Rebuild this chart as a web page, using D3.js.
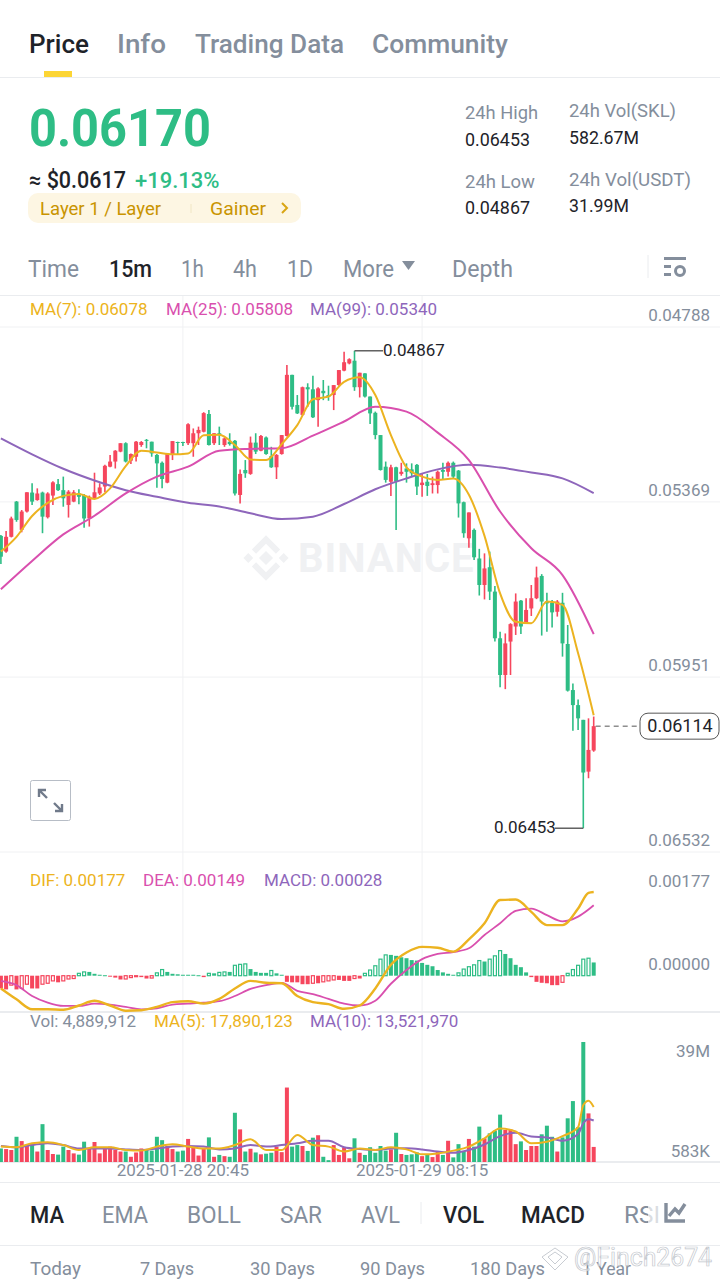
<!DOCTYPE html>
<html>
<head>
<meta charset="utf-8">
<script src="https://cdn.jsdelivr.net/npm/d3@7"></script>
<style>
html, body { margin: 0; padding: 0; background: #fff; }
svg { display: block; }
text { font-family: Roboto, "Noto Sans", sans-serif; }
</style>
</head>
<body>
<script>
// Candles, one entry per 15m bar
var lows = [0.05479,0.05466,0.05418,0.05366,0.05396,0.05337,0.05307,0.05324,0.05335,0.05337,0.05300,0.05293,0.05285,0.05330,0.05330,0.05327,0.05343,0.05348,0.05272,0.05307,0.05246,0.05213,0.05197,0.05174,0.05171,0.05208,0.05167,0.05167,0.05160,0.05169,0.05210,0.05235,0.05208,0.05167,0.05169,0.05169,0.05108,0.05125,0.05119,0.05071,0.05064,0.05141,0.05119,0.05155,0.05141,0.05163,0.05261,0.05230,0.05152,0.05141,0.05147,0.05152,0.05186,0.05210,0.05147,0.04914,0.04947,0.05014,0.04986,0.04975,0.04950,0.04988,0.04964,0.04983,0.04981,0.04931,0.04870,0.04892,0.04867,0.04940,0.04942,0.05019,0.05069,0.05147,0.05235,0.05246,0.05252,0.05239,0.05241,0.05241,0.05243,0.05274,0.05276,0.05285,0.05265,0.05239,0.05235,0.05235,0.05263,0.05368,0.05404,0.05457,0.05525,0.05540,0.05534,0.05648,0.05800,0.05806,0.05772,0.05673,0.05695,0.05689,0.05645,0.05584,0.05609,0.05671,0.05695,0.05695,0.05671,0.05778,0.05972,0.06025,0.06093,0.06088,0.06082];
var opens = [0.05482,0.05534,0.05485,0.05368,0.05462,0.05401,0.05338,0.05363,0.05338,0.05420,0.05348,0.05310,0.05330,0.05379,0.05368,0.05341,0.05346,0.05424,0.05357,0.05341,0.05318,0.05252,0.05235,0.05202,0.05174,0.05232,0.05219,0.05180,0.05163,0.05169,0.05213,0.05239,0.05305,0.05210,0.05170,0.05170,0.05174,0.05174,0.05141,0.05136,0.05077,0.05174,0.05141,0.05180,0.05169,0.05166,0.05346,0.05263,0.05276,0.05172,0.05199,0.05155,0.05217,0.05254,0.05210,0.05150,0.04947,0.05047,0.05080,0.04988,0.04995,0.05031,0.05000,0.05014,0.05014,0.04981,0.04933,0.04909,0.04900,0.04988,0.04942,0.05019,0.05073,0.05147,0.05252,0.05302,0.05254,0.05276,0.05258,0.05261,0.05246,0.05313,0.05302,0.05313,0.05313,0.05263,0.05269,0.05239,0.05265,0.05370,0.05490,0.05462,0.05557,0.05645,0.05586,0.05667,0.05822,0.05944,0.05833,0.05783,0.05697,0.05772,0.05723,0.05689,0.05615,0.05700,0.05704,0.05734,0.05704,0.05841,0.05994,0.06044,0.06093,0.06265,0.06195];
var closes = [0.05551,0.05485,0.05424,0.05429,0.05401,0.05337,0.05368,0.05341,0.05418,0.05341,0.05304,0.05330,0.05357,0.05335,0.05337,0.05352,0.05424,0.05352,0.05337,0.05321,0.05249,0.05235,0.05199,0.05174,0.05235,0.05210,0.05169,0.05170,0.05166,0.05208,0.05241,0.05293,0.05210,0.05167,0.05172,0.05172,0.05111,0.05141,0.05130,0.05074,0.05180,0.05141,0.05147,0.05158,0.05177,0.05341,0.05276,0.05274,0.05172,0.05202,0.05150,0.05210,0.05254,0.05213,0.05147,0.04947,0.05053,0.05075,0.04988,0.04995,0.05088,0.04992,0.05008,0.05019,0.04981,0.04931,0.04905,0.04895,0.04988,0.04940,0.05019,0.05075,0.05147,0.05263,0.05296,0.05254,0.05302,0.05269,0.05269,0.05274,0.05318,0.05305,0.05316,0.05307,0.05269,0.05269,0.05239,0.05285,0.05374,0.05473,0.05404,0.05553,0.05645,0.05590,0.05667,0.05822,0.05944,0.05839,0.05775,0.05700,0.05783,0.05728,0.05689,0.05620,0.05700,0.05706,0.05736,0.05700,0.05839,0.05996,0.06044,0.06088,0.06268,0.06193,0.06114];
var highs = [0.05575,0.05538,0.05487,0.05435,0.05470,0.05404,0.05379,0.05365,0.05473,0.05424,0.05379,0.05333,0.05385,0.05421,0.05370,0.05377,0.05455,0.05451,0.05359,0.05346,0.05337,0.05254,0.05258,0.05204,0.05238,0.05243,0.05235,0.05186,0.05191,0.05219,0.05322,0.05324,0.05307,0.05230,0.05210,0.05183,0.05180,0.05219,0.05180,0.05138,0.05182,0.05180,0.05180,0.05186,0.05182,0.05348,0.05374,0.05289,0.05279,0.05210,0.05201,0.05212,0.05256,0.05293,0.05212,0.05152,0.05062,0.05077,0.05083,0.05053,0.05090,0.05119,0.05031,0.05033,0.05064,0.04983,0.04935,0.04912,0.05000,0.05022,0.05022,0.05110,0.05161,0.05265,0.05305,0.05349,0.05462,0.05282,0.05305,0.05285,0.05346,0.05352,0.05349,0.05341,0.05341,0.05296,0.05285,0.05291,0.05421,0.05488,0.05521,0.05562,0.05680,0.05693,0.05695,0.05833,0.05985,0.05991,0.05944,0.05811,0.05808,0.05775,0.05748,0.05692,0.05813,0.05800,0.05786,0.05750,0.05883,0.05999,0.06129,0.06127,0.06453,0.06287,0.06199];

// Price moving averages, sampled every few bars
var ma7Step = 3;
var ma7 = [0.05534,0.05485,0.05416,0.05372,0.05349,0.05343,0.05359,0.05324,0.05250,0.05199,0.05205,0.05211,0.05208,0.05148,0.05146,0.05180,0.05228,0.05230,0.05177,0.05114,0.05028,0.05019,0.04970,0.04955,0.05014,0.05147,0.05254,0.05285,0.05296,0.05291,0.05345,0.05482,0.05673,0.05767,0.05772,0.05700,0.05711,0.05872,0.06078];
var maSlowStep = 6;
var ma25 = [0.05659,0.05565,0.05477,0.05415,0.05341,0.05285,0.05252,0.05199,0.05193,0.05191,0.05149,0.05102,0.05053,0.05069,0.05139,0.05230,0.05401,0.05523,0.05612,0.05808];
var ma99 = [0.05158,0.05211,0.05259,0.05298,0.05330,0.05352,0.05372,0.05384,0.05407,0.05426,0.05418,0.05376,0.05327,0.05291,0.05261,0.05246,0.05255,0.05271,0.05291,0.05340];

// MACD panel, in units of 0.00001
var histogram = [-27,-29,-20,-29,-27,-18,-27,-27,-18,-16,-11,-14,-11,-7,-6,5,8,8,4,2,1,-1,-4,-8,-7,-4,-2,-3,-6,-5,6,13,8,4,3,2,2,2,1,-3,5,5,7,8,8,22,24,25,14,8,6,6,11,5,2,-13,-14,-14,-18,-18,-16,-16,-13,-11,-9,-9,-11,-11,-6,-6,5,12,21,35,44,44,42,39,37,33,32,27,23,20,12,7,4,2,6,14,19,23,32,30,35,42,53,46,37,23,18,7,-3,-13,-15,-16,-20,-20,-14,5,13,22,35,37,28];
var macdBars = d3.range(0, 112, 3).concat([113, 114]);
var dif = [-27,-50,-71,-71,-72,-63,-53,-63,-74,-73,-66,-56,-54,-59,-49,-27,-11,-15,-16,-43,-56,-60,-70,-63,-27,23,49,61,59,51,77,111,160,161,135,107,107,142,175,177];
var dea = [-11,-20,-43,-57,-64,-64,-59,-61,-66,-71,-69,-61,-59,-57,-54,-43,-28,-20,-15,-32,-39,-49,-59,-63,-53,-17,12,35,46,50,58,86,111,137,142,128,115,125,140,149];

// Volume panel, in millions
var volumes = [4.4,4.2,3.9,8.2,6.8,5.5,5.7,3.4,12.3,3.9,2.6,2.4,5.0,3.9,2.8,2.4,6.6,4.4,6.5,2.8,4.4,5.0,3.9,3.4,3.4,1.7,3.1,4.4,4.2,3.7,8.2,7.1,5.2,4.2,3.4,3.7,7.5,4.7,2.1,4.4,8.0,1.7,2.3,1.9,1.7,16.0,10.6,3.4,4.3,3.1,2.5,2.7,3.0,5.0,3.2,24.2,5.0,5.5,5.2,3.6,7.9,8.7,1.7,0.6,5.5,2.3,4.8,1.2,7.7,3.0,2.3,4.8,3.0,5.2,3.7,4.1,9.5,2.6,2.3,2.5,3.1,1.9,2.3,1.6,3.4,2.3,6.9,1.5,5.8,3.4,7.5,5.0,11.5,7.7,9.3,10.2,15.4,10.4,10.6,5.8,6.7,3.9,5.2,5.2,9.0,11.8,8.2,3.4,8.0,14.2,19.8,11.3,39.0,15.8,4.9];
var volMaBars = d3.range(0, 112, 3).concat([112, 113, 114]);
var volMa5 = [5.0,4.8,6.1,6.4,5.5,3.9,4.8,4.8,3.9,3.7,5.0,5.8,5.0,4.4,4.4,5.5,7.4,3.9,3.9,8.8,5.5,5.0,3.4,4.4,3.9,4.8,4.1,2.5,2.8,3.7,5.0,7.7,10.9,9.9,6.1,6.6,8.4,11.3,18.5,19.9,17.9];
var volMa10 = [5.2,4.8,5.5,6.1,5.5,4.4,4.4,4.4,4.1,3.9,4.4,5.0,5.2,5.0,4.1,4.4,5.5,5.0,5.5,6.1,6.9,6.9,4.8,4.2,3.9,4.4,4.5,4.1,3.4,3.0,3.9,5.7,8.4,9.5,8.3,8.0,6.9,9.1,12.6,13.9,13.5];

// Axis labels
var priceTicks = [0.04788, 0.05369, 0.05951, 0.06532];
var macdTicks = [177, 0];
var volTicks = [[39, "39M"], [0, "583K"]];
var dateBars = [35, 81];
var dateLabels = ["2025-01-28 20:45", "2025-01-29 08:15"];
var lastPrice = 0.06114, maxLabel = 0.04867, minLabel = 0.06453;

var green = "#2ebd85", red = "#f6465d", gray = "#848e9c", dark = "#1e2329", line = "#eaecef";
var yellowMa = "#ecb320", pinkMa = "#d94fae", purpleMa = "#8e66bb";

var svg = d3.select("body").append("svg").attr("width", 720).attr("height", 1280);

var x = d3.scaleLinear().domain([0, 114]).range([0.9, 593.7]);
var yPrice = d3.scaleLinear().domain([0.04788, 0.06532]).range([327, 852]); // the chart is drawn upside down
var yMacd = d3.scaleLinear().domain([0, 177]).range([975.7, 892]);
var yVol = d3.scaleLinear().domain([0, 39]).range([1162, 1042]);

function label(s, px, py, size, color, weight, anchor) {
  return svg.append("text").attr("x", px).attr("y", py).attr("font-size", size)
    .attr("fill", color).attr("font-weight", weight || 400)
    .attr("text-anchor", anchor || "start").text(s);
}
// Same as label but squeezed or stretched to the width seen in the picture
function fitted(s, px, py, size, color, weight, w) {
  return label(s, px, py, size, color, weight).attr("textLength", w).attr("lengthAdjust", "spacingAndGlyphs");
}
function rule(x1, y1, x2, y2, color, w) {
  return svg.append("line").attr("x1", x1).attr("y1", y1).attr("x2", x2).attr("y2", y2)
    .attr("stroke", color || line).attr("stroke-width", w || 1);
}
function drawLine(values, bars, yScale, color, w) {
  var gen = d3.line().x(function(d, i){ return x(bars(i)); }).y(function(d){ return yScale(d); }).curve(d3.curveMonotoneX);
  svg.append("path").attr("d", gen(values)).attr("fill", "none").attr("stroke", color).attr("stroke-width", w);
}
function isUp(i) { return closes[i] >= opens[i]; }

// Header
rule(0, 77.5, 720, 77.5);
fitted("Price", 29, 53, 26, dark, 500, 60);
fitted("Info", 117, 53, 26, gray, 500, 49);
fitted("Trading Data", 195, 53, 26, gray, 500, 149);
fitted("Community", 372, 53, 26, gray, 500, 136);
svg.append("rect").attr("x", 44).attr("y", 71).attr("width", 28).attr("height", 6).attr("fill", "#fcd535");

fitted("0.06170", 29, 146, 52, green, 700, 182);
fitted("≈ $0.0617", 29, 188, 23, dark, 500, 97);
label("+19.13%", 135, 188, 22, green, 500);
svg.append("rect").attr("x", 28).attr("y", 193).attr("width", 273).attr("height", 30).attr("rx", 10).attr("fill", "#fdf6e3");
fitted("Layer 1 / Layer", 40, 215, 19, "#c99400", 400, 121);
rule(191, 204, 191, 213, "#f0e6c4");
fitted("Gainer", 210, 215, 19, "#c99400", 400, 56);
svg.append("path").attr("d", "M282 203l5 5l-5 5").attr("fill", "none").attr("stroke", "#d9a514").attr("stroke-width", 2);

fitted("24h High", 465, 119, 19, gray, 400, 73);
fitted("0.06453", 465, 146, 19, dark, 400, 65);
fitted("24h Vol(SKL)", 569, 117, 19, gray, 400, 107);
fitted("582.67M", 569, 144, 19, dark, 400, 70);
fitted("24h Low", 465, 188, 19, gray, 400, 70);
fitted("0.04867", 465, 214, 19, dark, 400, 65);
fitted("24h Vol(USDT)", 569, 186, 19, gray, 400, 122);
fitted("31.99M", 569, 212, 19, dark, 400, 60);

// Interval row
fitted("Time", 28, 277, 24, gray, 400, 51);
fitted("15m", 109, 277, 24, dark, 500, 43);
fitted("1h", 181, 277, 24, gray, 400, 23);
fitted("4h", 233, 277, 24, gray, 400, 24);
fitted("1D", 287, 277, 24, gray, 400, 26);
fitted("More", 343, 277, 24, gray, 400, 51);
svg.append("path").attr("d", "M402 261h13l-6.5 9z").attr("fill", gray);
fitted("Depth", 452, 277, 24, gray, 400, 61);
rule(648, 255, 648, 278);
svg.append("path").attr("d", "M664 257h22v3h-22zM664 265h7v3h-7zM664 273h7v3h-7z").attr("fill", gray);
svg.append("circle").attr("cx", 680).attr("cy", 271).attr("r", 4.5).attr("fill", "none").attr("stroke", gray).attr("stroke-width", 3);
rule(0, 295.5, 720, 295.5);

// Grid
priceTicks.forEach(function(t){
  rule(0, yPrice(t), 720, yPrice(t), "#f0f1f3");
  label(t.toFixed(5), 710, yPrice(t) - 6, 17, gray, 400, "end");
});
dateBars.forEach(function(b, i){
  rule(x(b), 296, x(b), 1162, "#f0f1f3");
  label(dateLabels[i], x(b), 1176, 17, gray, 400, "middle");
});
rule(0, 1012, 720, 1012, line, 2);
rule(0, 1162, 720, 1162, line, 2);
rule(0, 1182.5, 720, 1182.5);
rule(0, 1245.5, 720, 1245.5);

// Watermark
var logo = svg.append("g").attr("transform", "translate(266,558) rotate(45)").attr("fill", "#f0f1f3");
logo.append("rect").attr("x", -5).attr("y", -5).attr("width", 10).attr("height", 10);
logo.append("path").attr("d", "M-16 -16h20v6h-14v14h-6zM16 16h-20v-6h14v-14h6z");
logo.append("rect").attr("x", 9).attr("y", -16).attr("width", 7).attr("height", 7);
logo.append("rect").attr("x", -16).attr("y", 9).attr("width", 7).attr("height", 7);
label("BINANCE", 298, 572, 40, "#f0f1f3", 700).attr("letter-spacing", 1);

// Candles
var candles = svg.append("g").selectAll("g").data(d3.range(opens.length)).enter().append("g");
candles.append("line")
  .attr("x1", function(i){ return x(i); }).attr("x2", function(i){ return x(i); })
  .attr("y1", function(i){ return yPrice(lows[i]); }).attr("y2", function(i){ return yPrice(highs[i]); })
  .attr("stroke", function(i){ return isUp(i) ? green : red; }).attr("stroke-width", 1.6);
candles.append("rect")
  .attr("x", function(i){ return x(i) - 2; }).attr("width", 4)
  .attr("y", function(i){ return yPrice(Math.min(opens[i], closes[i])); })
  .attr("height", function(i){ return Math.max(1, Math.abs(yPrice(opens[i]) - yPrice(closes[i]))); })
  .attr("fill", function(i){ return isUp(i) ? green : red; });

drawLine(ma99, function(i){ return i * maSlowStep; }, yPrice, purpleMa, 2);
drawLine(ma25, function(i){ return i * maSlowStep; }, yPrice, pinkMa, 2);
drawLine(ma7, function(i){ return i * ma7Step; }, yPrice, yellowMa, 2);

label("MA(7): 0.06078", 30, 315, 17, yellowMa);
label("MA(25): 0.05808", 166, 315, 17, pinkMa);
label("MA(99): 0.05340", 310, 315, 17, purpleMa);

// High and low markers
var hi = lows.indexOf(maxLabel), lo = highs.indexOf(minLabel);
rule(x(hi), yPrice(maxLabel), 383, yPrice(maxLabel), "#555", 1.4);
label(maxLabel.toFixed(5), 383, yPrice(maxLabel) + 5, 17, dark);
rule(555, yPrice(minLabel), x(lo), yPrice(minLabel), "#555", 1.4);
label(minLabel.toFixed(5), 494, yPrice(minLabel) + 5, 17, dark);

// Last price tag
rule(x(114) + 2, yPrice(lastPrice), 640, yPrice(lastPrice), "#555").attr("stroke-dasharray", "5,4");
svg.append("rect").attr("x", 640).attr("y", yPrice(lastPrice) - 13).attr("width", 79).attr("height", 26).attr("rx", 8)
  .attr("fill", "#fff").attr("stroke", "#555");
label(lastPrice.toFixed(5), 680, yPrice(lastPrice) + 6, 18, dark, 400, "middle");

// Expand button
svg.append("rect").attr("x", 30.5).attr("y", 780.5).attr("width", 40).attr("height", 40).attr("rx", 2)
  .attr("fill", "#fff").attr("stroke", "#b7bdc6");
svg.append("path").attr("d", "M47 798l-8-8M39 797v-7h7M54 803l8 8M62 804v7h-7")
  .attr("fill", "none").attr("stroke", "#707a8a").attr("stroke-width", 2.4);

// MACD
label("DIF: 0.00177", 30, 886, 17, yellowMa);
label("DEA: 0.00149", 143, 886, 17, pinkMa);
label("MACD: 0.00028", 264, 886, 17, purpleMa);
macdTicks.forEach(function(t){
  label((t / 100000).toFixed(5), 710, yMacd(t) + (t ? -5 : -6), 17, gray, 400, "end");
});
svg.append("g").selectAll("rect").data(histogram).enter().append("rect")
  .each(function(d, i){
    var color = d >= 0 ? green : red;
    var rising = i > 0 && d > histogram[i - 1];
    var top = Math.min(yMacd(d), yMacd(0)), h = Math.max(1, Math.abs(yMacd(d) - yMacd(0)));
    d3.select(this)
      .attr("x", x(i) - (rising ? 1.5 : 2)).attr("width", rising ? 3 : 4)
      .attr("y", top).attr("height", h)
      .attr("fill", rising ? "#fff" : color).attr("fill-opacity", rising ? 0.6 : 1)
      .attr("stroke", rising ? color : "none").attr("stroke-width", 1.2);
  });
drawLine(dea, function(i){ return macdBars[i]; }, yMacd, pinkMa, 1.8);
drawLine(dif, function(i){ return macdBars[i]; }, yMacd, yellowMa, 2.4);

// Volume
label("Vol: 4,889,912", 30, 1027, 17, gray);
label("MA(5): 17,890,123", 154, 1027, 17, yellowMa);
label("MA(10): 13,521,970", 310, 1027, 17, purpleMa);
volTicks.forEach(function(t){
  label(t[1], 710, yVol(t[0]) + (t[0] ? 15 : -5), 17, gray, 400, "end");
});
svg.append("g").selectAll("rect").data(volumes).enter().append("rect")
  .attr("x", function(d, i){ return x(i) - 2; }).attr("width", 4)
  .attr("y", function(d){ return yVol(d); })
  .attr("height", function(d){ return yVol(0) - yVol(d); })
  .attr("fill", function(d, i){ return isUp(i) ? green : red; });
drawLine(volMa10, function(i){ return volMaBars[i]; }, yVol, purpleMa, 2);
drawLine(volMa5, function(i){ return volMaBars[i]; }, yVol, yellowMa, 2);

// Indicator row
fitted("MA", 30, 1223, 23, dark, 500, 34);
fitted("EMA", 102, 1223, 23, gray, 400, 46);
fitted("BOLL", 187, 1223, 23, gray, 400, 54);
fitted("SAR", 280, 1223, 23, gray, 400, 42);
fitted("AVL", 361, 1223, 23, gray, 400, 39);
rule(421, 1202, 421, 1224);
fitted("VOL", 443, 1223, 23, dark, 500, 41);
fitted("MACD", 521, 1223, 23, dark, 500, 64);
fitted("RSI", 624, 1223, 23, gray, 400, 36);
svg.append("rect").attr("x", 648).attr("y", 1200).attr("width", 12).attr("height", 28)
  .attr("fill", "#fff").attr("fill-opacity", 0.7);
svg.append("path").attr("d", "M666 1203v18h19M669 1216l6 -7l4 4l6 -9").attr("fill", "none").attr("stroke", gray).attr("stroke-width", 3.4);

// Range row
fitted("Today", 30, 1275, 18.5, gray, 400, 51);
fitted("7 Days", 140, 1275, 18.5, gray, 400, 54);
fitted("30 Days", 250, 1275, 18.5, gray, 400, 65);
fitted("90 Days", 360, 1275, 18.5, gray, 400, 65);
fitted("180 Days", 470, 1275, 18.5, gray, 400, 75);
fitted("1 Year", 582, 1275, 18.5, gray, 400, 49);

// Screenshot source mark, bottom right
svg.append("path").attr("d", "M542 1257l13 -9l13 9l-13 13zM548 1257l7 -5l7 5l-7 7z")
  .attr("fill", "none").attr("stroke", "#c8ccd2").attr("stroke-width", 1);
fitted("@Finch2674", 574, 1266, 25, "#fff", 400, 138).attr("stroke", "#c4c8ce").attr("stroke-width", 0.7).attr("fill-opacity", 0.5);
</script>
</body>
</html>
